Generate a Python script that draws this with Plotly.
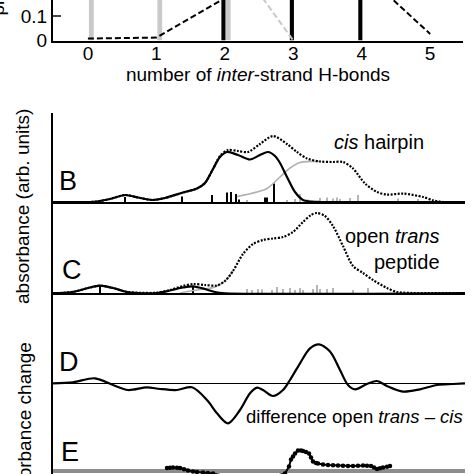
import plotly.graph_objects as go

W = H = 474
FONT = "Arial, Liberation Sans, sans-serif"

# ---------------- top panel: H-bond distribution ----------------
hb_n = [0, 1, 2, 3, 4, 5]
hb_black_bars_x = [2, 3, 4]
hb_black_bars = [0.35, 0.30, 0.30]
hb_gray_bars_x = [0, 1, 2]
hb_gray_bars = [0.25, 0.40, 0.35]
hb_black_dash = [0.008, 0.012, 0.174, 0.35, 0.285, 0.027]
hb_gray_dash_x = [1, 2, 3]
hb_gray_dash = [0.45, 0.39, 0.0]

# ---------------- spectra (x in arbitrary frequency units) ----------------
# B: cis hairpin
b_solid_x = [0, 37, 44, 57, 72, 85, 99, 112, 130, 144, 152, 160, 167, 174, 185, 197, 207, 215, 222, 227, 234, 242, 250, 259, 267, 412]
b_solid_y = [0, 0, 0.5, 3, 7, 4.5, 2, 4, 9.5, 13.5, 19, 33, 45, 50, 47, 42.5, 47, 50, 46, 39, 25, 10, 2, 0.3, 0, 0]
b_dot_x = [0, 37, 44, 57, 72, 85, 99, 112, 130, 144, 152, 160, 167, 175, 185, 195, 207, 220, 234, 244, 254, 267, 280, 290, 300, 312, 324, 334, 350, 370, 380, 390, 412]
b_dot_y = [0, 0, 0.5, 3, 7, 4.5, 2, 4, 9.5, 13.5, 19, 33, 46, 52, 51, 50, 58, 66, 58, 50, 43.5, 40.5, 40, 40, 33.5, 18.5, 10, 7.4, 8.4, 5, 1.7, 0, 0]
b_gray_x = [184, 204, 214, 227, 237, 247, 257, 267]
b_gray_y = [5.5, 10, 13.5, 25, 34, 39.5, 40.5, 40.5]
b_stick_black_x = [72, 129, 159, 174, 178, 183, 186, 212, 214, 221]
b_stick_black_y = [5, 5.5, 7, 9.5, 10, 8, 2.5, 4.5, 4.5, 18.5]
b_stick_gray_x = [194, 234, 242, 247, 255, 267, 274, 280, 284, 287, 297, 305, 345, 365]
b_stick_gray_y = [2, 2, 3, 8, 2.5, 4, 4.5, 3.5, 4.5, 3, 4, 7, 3.5, 3]

# C: open trans peptide
c_solid_x = [0, 7, 22, 35, 47, 60, 72, 84, 104, 117, 130, 140, 152, 160, 169, 412]
c_solid_y = [0, 0, 1.5, 5, 7.3, 5, 1.5, 0, 0, 2.5, 5.5, 6.7, 4, 1.5, 0, 0]
c_dot_x = [0, 7, 22, 35, 47, 60, 72, 84, 104, 117, 130, 140, 152, 164, 172, 180, 190, 200, 210, 220, 230, 240, 250, 258, 264, 272, 280, 290, 300, 310, 320, 334, 344, 360, 412]
c_dot_y = [0, 0, 1.5, 5, 7.3, 5, 1.5, 0.3, 0.3, 3, 7, 9, 8, 7.5, 12, 22, 39, 49, 53, 54.5, 56, 61, 71, 78, 80, 77, 67, 47, 27, 20, 13, 5, 1, 0, 0]
c_gray_x = [127, 140, 152, 162, 172, 180]
c_gray_y = [0, 2.5, 4, 6, 12, 22]
c_stick_black_x = [47, 140]
c_stick_black_y = [7.5, 7]
c_stick_gray_x = [194, 199, 205, 209, 219, 224, 230, 237, 242, 247, 250, 260, 264, 267, 274, 280, 300, 315]
c_stick_gray_y = [4, 3, 4, 3.5, 3, 6, 4, 5, 3, 5, 3, 4, 8, 4, 4, 5, 3, 5]

# D: difference open trans - cis
d_x = [0, 20, 42, 60, 75, 94, 107, 124, 139, 154, 164, 175, 187, 197, 204, 210, 220, 230, 237, 247, 257, 266, 277, 287, 295, 302, 314, 324, 334, 350, 367, 384, 400, 412]
d_y = [0, 1, 5, -1.7, -6.7, -4, -5.7, -6.7, -4, -16.7, -30, -40, -26.7, -10, -4.3, -6.7, -12.7, -6.7, 3.3, 20, 35, 39, 31.7, 13.3, -1.7, -6, -0.7, 2.3, -2.7, -8.3, -6, -1.7, -0.7, 0]

# E: measured difference
e_x = [114, 117, 120, 124, 127, 131, 135, 140, 144, 150, 155, 160, 175, 200, 220, 232, 236, 238, 240, 242, 245, 248, 250, 253, 256, 258, 260, 263, 265, 270, 275, 280, 285, 290, 295, 300, 305, 310, 314, 318, 321, 324, 327, 330, 334, 337]
e_y = [2.5, 2.8, 3, 2.8, 2.5, 1.2, 0, -1, -1.5, -2, -2.5, -3, -6, -8, -6, -3, 4, 11, 14, 17, 20, 20, 19.5, 18.5, 17, 13, 9, 7.5, 7, 6, 5.5, 5.2, 5, 4.8, 4.6, 4.5, 4.8, 5, 4.8, 4.5, 3, 1.5, 2.2, 3, 3.8, 4.5]

fig = go.Figure()

def px2y(p):
    return 1 - p / H

# top panel traces
fig.add_trace(go.Bar(x=hb_gray_bars_x, y=hb_gray_bars, width=0.07, offset=0.015,
                     marker=dict(color="#c9c9c9", line_width=0), xaxis="x", yaxis="y"))
fig.add_trace(go.Bar(x=hb_black_bars_x, y=hb_black_bars, width=0.06, offset=-0.05,
                     marker=dict(color="black", line_width=0), xaxis="x", yaxis="y"))
fig.add_trace(go.Scatter(x=hb_gray_dash_x, y=hb_gray_dash, mode="lines",
                         line=dict(color="#c9c9c9", width=2, dash="6px,3px"), xaxis="x", yaxis="y"))
fig.add_trace(go.Scatter(x=hb_n, y=hb_black_dash, mode="lines",
                         line=dict(color="black", width=2, dash="6px,3px"), xaxis="x", yaxis="y"))

STICK_W = 1.3
DOT = "2px,1.5px"
# B
fig.add_trace(go.Bar(x=b_stick_gray_x, y=b_stick_gray_y, width=STICK_W, marker=dict(color="#b5b5b5", line_width=0), xaxis="x2", yaxis="y2"))
fig.add_trace(go.Bar(x=b_stick_black_x, y=b_stick_black_y, width=STICK_W, marker=dict(color="black", line_width=0), xaxis="x2", yaxis="y2"))
fig.add_trace(go.Scatter(x=b_gray_x, y=b_gray_y, mode="lines", line=dict(color="#b0b0b0", width=1.6, shape="spline"), xaxis="x2", yaxis="y2"))
fig.add_trace(go.Scatter(x=b_solid_x, y=b_solid_y, mode="lines", line=dict(color="black", width=2.2, shape="spline", smoothing=0.8), xaxis="x2", yaxis="y2"))
fig.add_trace(go.Scatter(x=b_dot_x, y=b_dot_y, mode="lines", line=dict(color="black", width=2.2, dash=DOT, shape="spline", smoothing=0.8), xaxis="x2", yaxis="y2"))
# C
fig.add_trace(go.Bar(x=c_stick_gray_x, y=c_stick_gray_y, width=STICK_W, marker=dict(color="#b5b5b5", line_width=0), xaxis="x3", yaxis="y3"))
fig.add_trace(go.Bar(x=c_stick_black_x, y=c_stick_black_y, width=STICK_W, marker=dict(color="black", line_width=0), xaxis="x3", yaxis="y3"))
fig.add_trace(go.Scatter(x=c_gray_x, y=c_gray_y, mode="lines", line=dict(color="#b0b0b0", width=1.6, shape="spline"), xaxis="x3", yaxis="y3"))
fig.add_trace(go.Scatter(x=c_solid_x, y=c_solid_y, mode="lines", line=dict(color="black", width=2.2, shape="spline", smoothing=0.8), xaxis="x3", yaxis="y3"))
fig.add_trace(go.Scatter(x=c_dot_x, y=c_dot_y, mode="lines", line=dict(color="black", width=2.2, dash=DOT, shape="spline", smoothing=0.8), xaxis="x3", yaxis="y3"))
# D
fig.add_trace(go.Scatter(x=d_x, y=d_y, mode="lines", line=dict(color="black", width=2.2, shape="spline", smoothing=0.9), xaxis="x4", yaxis="y4"))
# E
fig.add_trace(go.Scatter(x=e_x, y=e_y, mode="lines+markers", line=dict(color="black", width=2),
                         marker=dict(color="black", size=4.5), xaxis="x5", yaxis="y5"))

XL, XR = 53 / W, 465 / W
hidden = dict(showgrid=False, zeroline=False, ticks="", showticklabels=False, automargin=False)

fig.update_layout(
    template="none",
    width=W, height=H, margin=dict(l=0, r=0, t=0, b=0, pad=0, autoexpand=False),
    paper_bgcolor="white", plot_bgcolor="white", showlegend=False,
    barmode="overlay", font=dict(family=FONT, color="black", size=19),
    xaxis=dict(domain=[XL, 463 / W], range=[-0.51, 5.48], anchor="y", showline=True, linecolor="black",
               linewidth=2, ticks="", tickvals=hb_n, tickfont=dict(size=19), showgrid=False, zeroline=False,
               automargin=False, ticklabelstandoff=-5,
               title=dict(text="number of <i>inter</i>-strand H-bonds", font=dict(size=19), standoff=0)),
    yaxis=dict(domain=[px2y(40.5), 1], range=[0, 0.166], anchor="x", showline=True, linecolor="black",
               linewidth=2, ticks="inside", ticklen=8, tickwidth=2, tickvals=[0, 0.1], ticktext=["0", "0.1"],
               tickfont=dict(size=19), showgrid=False, zeroline=False, automargin=False),
    xaxis2=dict(domain=[XL, XR], range=[0, 412], anchor="y2", showline=True, linecolor="black", linewidth=2, **hidden),
    xaxis3=dict(domain=[XL, XR], matches="x2", anchor="y3", showline=True, linecolor="black", linewidth=2, **hidden),
    xaxis4=dict(domain=[XL, XR], matches="x2", anchor="y4", showline=False, **hidden),
    xaxis5=dict(domain=[XL, XR], matches="x2", anchor="y5", showline=False, **hidden),
    yaxis2=dict(domain=[px2y(202), px2y(113)], range=[0, 89], anchor="x2", showline=True, linecolor="black", linewidth=1.5, **hidden),
    yaxis3=dict(domain=[px2y(293), px2y(202)], range=[0, 91], anchor="x3", showline=True, linecolor="black", linewidth=1.5, **hidden),
    yaxis4=dict(domain=[px2y(440), px2y(293)], range=[-56.7, 90.3], anchor="x4", showline=True, linecolor="black",
                linewidth=1.5, showgrid=False, ticks="", showticklabels=False, zeroline=True, zerolinecolor="black",
                zerolinewidth=1, automargin=False),
    yaxis5=dict(domain=[0, px2y(440)], range=[-3.5, 30.5], anchor="x5", showline=True, linecolor="black",
                linewidth=1.5, showgrid=False, ticks="", showticklabels=False, zeroline=True, zerolinecolor="#8c8c8c",
                zerolinewidth=3.5, automargin=False),
)

def ann(text, x, y, size=19, xanchor="center", yanchor="middle", angle=0, align="center"):
    fig.add_annotation(text=text, x=x / W, y=px2y(y), xref="paper", yref="paper", showarrow=False,
                       font=dict(size=size, family=FONT, color="black"), xanchor=xanchor, yanchor=yanchor,
                       textangle=angle, align=align)

ann("B", 68, 181, size=27)
ann("C", 72, 270, size=27)
ann("D", 69, 362, size=27)
ann("E", 70, 452, size=27)
ann("<i>cis</i> hairpin", 379, 142, size=20)
ann("open <i>trans</i><br>peptide", 442, 249.5, size=20, xanchor="right", align="right")
ann("difference open <i>trans</i> – <i>cis</i>", 244, 416, size=18.5, xanchor="left")
ann("absorbance (arb. units)", 22, 207, size=19, angle=-90)
ann("absorbance change", 24, 426, size=19, angle=-90)
ann("probability", -3, 18, size=19, angle=-90, yanchor="bottom")

fig.write_html("out.html", config={"displayModeBar": False},
               post_script="document.body.style.margin='0';document.body.style.padding='0';")
